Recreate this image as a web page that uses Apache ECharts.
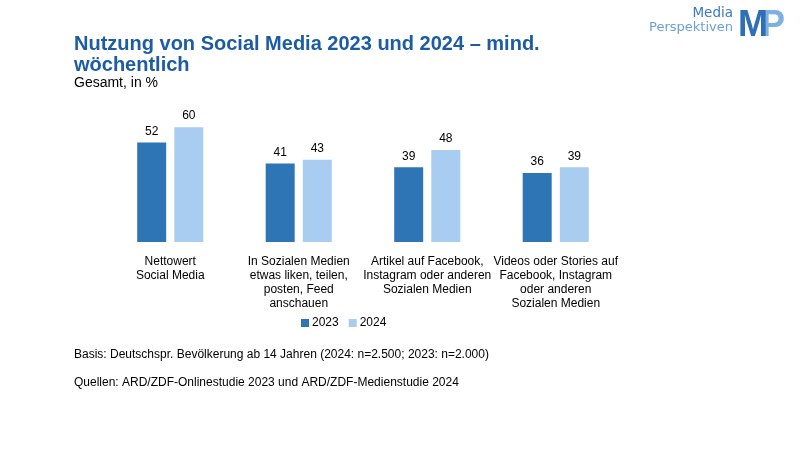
<!DOCTYPE html>
<html>
<head>
<meta charset="utf-8">
<script src="https://cdn.jsdelivr.net/npm/echarts@6/dist/echarts.min.js"></script>
<style>
html, body { margin: 0; padding: 0; background: #fff; }
#chart { width: 800px; height: 450px; }
</style>
</head>
<body>
<div id="chart"></div>
<script>
const categories = [
    'Nettowert\nSocial Media',
    'In Sozialen Medien\netwas liken, teilen,\nposten, Feed\nanschauen',
    'Artikel auf Facebook,\nInstagram oder anderen\nSozialen Medien',
    'Videos oder Stories auf\nFacebook, Instagram\noder anderen\nSozialen Medien'
]
const values2023 = [52, 41, 39, 36]
const values2024 = [60, 43, 48, 39]
const seriesNames = ['2023', '2024']

const font = '"Liberation Sans", Arial, sans-serif'
const myChart = echarts.init(document.getElementById('chart'))

const barLabel = {
    show: true,
    position: 'top',
    distance: 5,
    color: '#000',
    fontSize: 12,
    fontFamily: font
}

let option = {
    backgroundColor: '#fff',
    animation: false,
    title: [
        {
            text: 'Nutzung von Social Media 2023 und 2024 – mind.\nwöchentlich',
            left: 69,
            top: 29,
            textStyle: {
                color: '#1b5ca5',
                fontSize: 20,
                fontWeight: 'bold',
                fontFamily: font,
                lineHeight: 21
            }
        },
        {
            text: 'Gesamt, in %',
            left: 69,
            top: 71,
            textStyle: { color: '#000', fontSize: 14, fontWeight: 'normal', fontFamily: font }
        }
    ],
    legend: {
        data: seriesNames,
        left: 296,
        top: 312,
        itemWidth: 8,
        itemHeight: 8,
        itemGap: 10,
        icon: 'rect',
        textStyle: { color: '#000', fontSize: 12, fontFamily: font, padding: [0, 0, 0, -2] }
    },
    grid: {
        left: 106,
        top: 108,
        width: 514,
        height: 134
    },
    xAxis: {
        type: 'category',
        data: categories,
        axisLine: { show: false },
        axisTick: { show: false },
        axisLabel: {
            color: '#000',
            fontSize: 12,
            fontFamily: font,
            lineHeight: 14,
            margin: 13,
            interval: 0
        }
    },
    yAxis: {
        type: 'value',
        min: 0,
        max: 70,
        show: false,
        splitLine: { show: false }
    },
    series: [
        {
            name: seriesNames[0],
            type: 'bar',
            data: values2023,
            barWidth: 29,
            barGap: '28%',
            itemStyle: { color: '#2e75b6' },
            label: barLabel
        },
        {
            name: seriesNames[1],
            type: 'bar',
            data: values2024,
            barWidth: 29,
            itemStyle: { color: '#a9cdf0' },
            label: barLabel
        }
    ],
    graphic: [
        {
            type: 'text',
            left: 74,
            top: 349,
            style: {
                text: 'Basis: Deutschspr. Bevölkerung ab 14 Jahren (2024: n=2.500; 2023: n=2.000)',
                fill: '#000',
                font: '12px ' + font
            }
        },
        {
            type: 'text',
            left: 74,
            top: 377,
            style: {
                text: 'Quellen: ARD/ZDF-Onlinestudie 2023 und ARD/ZDF-Medienstudie 2024',
                fill: '#000',
                font: '12px ' + font
            }
        },
        // logo
        {
            type: 'text',
            right: 67,
            top: 6,
            style: { text: 'Media', fill: '#3a78c0', font: '13.5px "DejaVu Sans", sans-serif' }
        },
        {
            type: 'text',
            right: 67,
            top: 21,
            style: { text: 'Perspektiven', fill: '#6a9fd8', font: '13px "DejaVu Sans", sans-serif' }
        },
        {
            type: 'text',
            left: 761,
            top: 8,
            style: { text: 'P', fill: '#7fb0e2', font: 'bold 36px "Liberation Sans", Arial, sans-serif' }
        },
        {
            type: 'text',
            left: 738,
            top: 8,
            style: { text: 'M', fill: '#2f6fb8', font: 'bold 36px "Liberation Sans", Arial, sans-serif' }
        }
    ]
}

option && myChart.setOption(option)
</script>
</body>
</html>
